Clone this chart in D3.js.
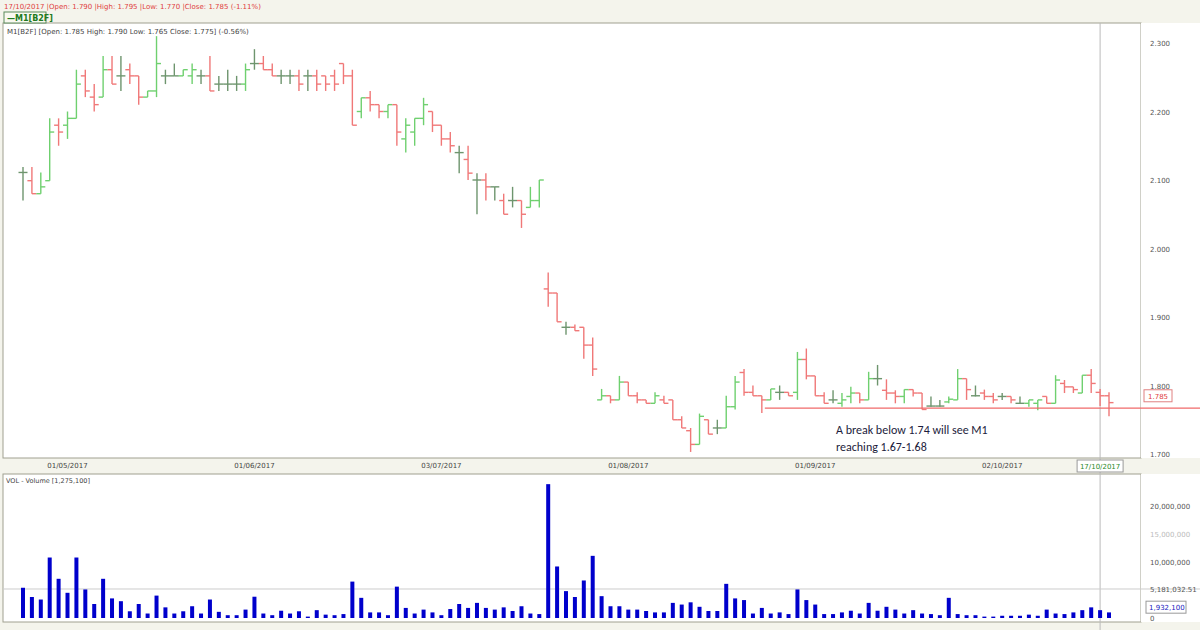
<!DOCTYPE html>
<html><head><meta charset="utf-8">
<script src="https://cdn.jsdelivr.net/npm/d3@7"></script>
<style>body{margin:0;background:#fff;}text{font-family:"DejaVu Sans",sans-serif;}</style>
</head><body><svg id="chart" width="1200" height="630"></svg>
<script>
const opens = [2.111,2.099,2.080,2.099,2.180,2.180,2.190,2.252,2.221,2.221,2.261,2.252,2.261,2.252,2.221,2.230,2.252,2.252,2.252,2.252,2.252,2.252,2.240,2.240,2.240,2.240,2.270,2.270,2.261,2.252,2.252,2.252,2.252,2.252,2.252,2.252,2.270,2.252,2.200,2.220,2.210,2.200,2.210,2.160,2.170,2.190,2.200,2.180,2.160,2.140,2.130,2.100,2.100,2.090,2.070,2.070,2.070,2.060,2.070,1.941,1.935,1.885,1.885,1.885,1.859,1.779,1.785,1.779,1.805,1.785,1.779,1.774,1.779,1.779,1.750,1.734,1.714,1.750,1.738,1.738,1.769,1.819,1.790,1.785,1.779,1.790,1.790,1.790,1.838,1.814,1.785,1.779,1.774,1.784,1.789,1.779,1.810,1.793,1.789,1.784,1.794,1.789,1.770,1.770,1.776,1.779,1.810,1.785,1.789,1.784,1.784,1.784,1.774,1.774,1.774,1.784,1.774,1.803,1.798,1.789,1.815,1.790,1.785];
const highs = [2.119,2.119,2.111,2.190,2.190,2.200,2.261,2.261,2.240,2.281,2.281,2.281,2.270,2.252,2.230,2.310,2.261,2.270,2.261,2.270,2.261,2.281,2.252,2.261,2.252,2.270,2.291,2.281,2.270,2.261,2.261,2.261,2.261,2.261,2.252,2.261,2.270,2.261,2.220,2.230,2.210,2.210,2.210,2.190,2.190,2.220,2.200,2.180,2.170,2.150,2.150,2.110,2.110,2.090,2.080,2.090,2.070,2.090,2.100,1.965,1.935,1.893,1.889,1.885,1.870,1.795,1.785,1.814,1.805,1.790,1.779,1.790,1.785,1.779,1.755,1.738,1.759,1.750,1.750,1.785,1.814,1.824,1.800,1.785,1.795,1.800,1.790,1.849,1.854,1.814,1.790,1.793,1.789,1.798,1.789,1.820,1.830,1.809,1.793,1.794,1.794,1.789,1.784,1.779,1.784,1.824,1.810,1.800,1.794,1.789,1.789,1.784,1.784,1.779,1.779,1.784,1.815,1.808,1.798,1.815,1.824,1.795,1.790];
const lows = [2.070,2.080,2.080,2.099,2.150,2.160,2.190,2.221,2.200,2.221,2.240,2.230,2.240,2.210,2.221,2.221,2.240,2.252,2.252,2.240,2.240,2.230,2.230,2.230,2.230,2.230,2.261,2.261,2.252,2.240,2.240,2.230,2.230,2.230,2.230,2.230,2.240,2.180,2.190,2.200,2.190,2.190,2.150,2.140,2.150,2.180,2.170,2.150,2.140,2.110,2.100,2.050,2.070,2.070,2.050,2.060,2.030,2.060,2.060,1.915,1.893,1.874,1.880,1.839,1.814,1.779,1.774,1.779,1.785,1.774,1.774,1.774,1.774,1.750,1.738,1.703,1.714,1.729,1.729,1.738,1.765,1.785,1.785,1.760,1.779,1.779,1.785,1.779,1.809,1.785,1.774,1.774,1.769,1.774,1.774,1.779,1.800,1.779,1.774,1.774,1.784,1.765,1.769,1.769,1.774,1.779,1.779,1.784,1.779,1.774,1.779,1.774,1.773,1.769,1.764,1.774,1.774,1.789,1.789,1.789,1.789,1.770,1.755];
const closes = [2.111,2.080,2.090,2.170,2.170,2.190,2.240,2.230,2.210,2.261,2.240,2.252,2.252,2.221,2.230,2.270,2.252,2.252,2.261,2.261,2.252,2.230,2.240,2.240,2.240,2.261,2.270,2.261,2.252,2.252,2.252,2.240,2.252,2.240,2.240,2.240,2.252,2.180,2.220,2.210,2.200,2.210,2.170,2.180,2.190,2.210,2.180,2.160,2.150,2.140,2.110,2.100,2.090,2.090,2.050,2.070,2.050,2.070,2.100,1.935,1.893,1.885,1.880,1.859,1.824,1.785,1.779,1.805,1.785,1.779,1.774,1.785,1.774,1.750,1.738,1.714,1.755,1.729,1.738,1.769,1.805,1.790,1.785,1.779,1.795,1.790,1.785,1.838,1.814,1.785,1.774,1.779,1.779,1.789,1.779,1.810,1.810,1.789,1.784,1.794,1.789,1.765,1.770,1.770,1.780,1.810,1.794,1.785,1.784,1.779,1.784,1.779,1.774,1.779,1.779,1.774,1.808,1.798,1.794,1.815,1.803,1.785,1.775];
// volume in millions
const volumes = [5.4,3.75,3.3,10.8,7.0,4.5,10.8,5.1,2.5,7.0,3.5,3.0,1.2,2.5,0.8,4.0,1.9,0.8,1.2,2.1,0.8,3.3,1.1,0.5,0.5,1.5,3.8,0.8,0.5,1.3,0.8,1.2,0.25,1.4,0.6,0.5,0.7,6.5,3.6,1.0,1.0,0.5,5.6,1.8,0.8,1.5,1.0,0.5,1.6,2.5,1.8,2.7,1.8,1.5,1.9,1.25,2.1,0.8,0.7,23.9,9.2,4.8,3.75,6.7,11.1,3.9,2.1,2.1,1.5,1.5,1.25,1.0,1.0,2.7,2.4,2.8,2.0,1.25,1.25,6.1,3.5,3.2,0.8,1.8,0.8,1.0,0.7,5.1,3.2,2.4,0.7,0.7,1.0,1.3,0.8,2.7,1.3,2.0,1.5,0.8,1.4,0.8,0.7,0.5,3.6,0.7,0.5,0.5,0.25,0.25,0.4,0.4,0.4,0.6,0.4,1.5,0.8,0.7,1.0,1.4,1.9,1.4,1.0];
const dateLabels = ["01/05/2017","01/06/2017","03/07/2017","01/08/2017","01/09/2017","02/10/2017"];
const dateIndex = [5,26,47,68,89,110];
const priceTicks = [1.7,1.8,1.9,2.0,2.1,2.2,2.3];
const volTicks = [0,10,15,20];
const cursorIndex = 121, cursorDate = "17/10/2017";
const supportLevel = 1.767, lastPrice = 1.785, volAvg = 5.181, volLast = 1.932;

const svg = d3.select("#chart");
const x = d3.scaleLinear().domain([0, opens.length - 1]).range([23, 1109]);
const y = d3.scaleLinear().domain([1.7, 2.3]).range([454, 43]);
const yv = d3.scaleLinear().domain([0, 20]).range([618, 506]);

// frames / backgrounds
svg.append("rect").attr("width", 1200).attr("height", 630).attr("fill", "#f4f4ec");
svg.append("rect").attr("x", 3).attr("y", 23).attr("width", 1138).attr("height", 435).attr("fill", "#fff").attr("stroke", "#a0a090");
svg.append("rect").attr("x", 1141).attr("y", 23).attr("width", 59).attr("height", 435).attr("fill", "#fff");
svg.append("rect").attr("x", 3).attr("y", 474).attr("width", 1138).attr("height", 148).attr("fill", "#fff").attr("stroke", "#a0a090");
svg.append("rect").attr("x", 1141).attr("y", 474).attr("width", 59).attr("height", 148).attr("fill", "#fff");

svg.append("text").attr("x", 4).attr("y", 9).attr("font-size", 7).attr("fill", "#e04040")
  .text("17/10/2017 |Open: 1.790 |High: 1.795 |Low: 1.770 |Close: 1.785 (-1.11%)");
svg.append("rect").attr("x", 4).attr("y", 12).attr("width", 42).attr("height", 11).attr("fill", "#f8f8f0").attr("stroke", "#5a8a5a");
svg.append("text").attr("x", 7).attr("y", 21).attr("font-size", 8).attr("font-weight", "bold").attr("fill", "#207a20").text("—M1[B2F]");
svg.append("text").attr("x", 7).attr("y", 34).attr("font-size", 7).attr("fill", "#444")
  .text("M1[B2F] [Open: 1.785  High: 1.790  Low: 1.765  Close: 1.775] (-0.56%)");

// axes labels
priceTicks.forEach(p => {
  svg.append("text").attr("x", 1150).attr("y", y(p) + 3).attr("font-size", 7).attr("fill", "#555").text(p.toFixed(3));
});
volTicks.forEach(v => {
  svg.append("text").attr("x", 1150).attr("y", yv(v) + 3).attr("font-size", 7).attr("fill", v === 15 ? "#bbb" : "#555")
    .text(d3.format(",")(v * 1e6));
});
dateIndex.forEach((d, i) => {
  svg.append("text").attr("x", x(d)).attr("y", 468).attr("text-anchor", "middle").attr("font-size", 7).attr("fill", "#444").text(dateLabels[i]);
});

// cursor line
svg.append("line").attr("x1", x(cursorIndex)).attr("x2", x(cursorIndex)).attr("y1", 23).attr("y2", 630).attr("stroke", "#bbb");
svg.append("rect").attr("x", x(cursorIndex) - 23).attr("y", 460).attr("width", 46).attr("height", 12).attr("fill", "#fff").attr("stroke", "#999");
svg.append("text").attr("x", x(cursorIndex)).attr("y", 469).attr("text-anchor", "middle").attr("font-size", 7).attr("fill", "#2a8a2a").text(cursorDate);

// OHLC bars
const color = i => closes[i] > opens[i] ? "#6fd06f" : closes[i] < opens[i] ? "#f07878" : "#6e956e";
const bars = svg.append("g").attr("stroke-width", 1.4);
opens.forEach((o, i) => {
  const cx = x(i), c = color(i);
  bars.append("line").attr("x1", cx).attr("x2", cx).attr("y1", y(highs[i])).attr("y2", y(lows[i])).attr("stroke", c);
  bars.append("line").attr("x1", cx - 4.5).attr("x2", cx).attr("y1", y(o)).attr("y2", y(o)).attr("stroke", c);
  bars.append("line").attr("x1", cx).attr("x2", cx + 4.5).attr("y1", y(closes[i])).attr("y2", y(closes[i])).attr("stroke", c);
});

// support line & annotation
svg.append("line").attr("x1", x(83) + 3).attr("x2", 1200).attr("y1", y(supportLevel)).attr("y2", y(supportLevel)).attr("stroke", "#f06a6a").attr("stroke-width", 1.3);
svg.append("text").attr("x", 836).attr("y", 434).attr("font-size", 12).attr("fill", "#1c1c3c").style("font-family", "Carlito, 'Liberation Sans Narrow', 'Liberation Sans', sans-serif").text("A break below 1.74 will see M1");
svg.append("text").attr("x", 836).attr("y", 451).attr("font-size", 12).attr("fill", "#1c1c3c").style("font-family", "Carlito, 'Liberation Sans Narrow', 'Liberation Sans', sans-serif").text("reaching 1.67-1.68");
svg.append("rect").attr("x", 1144).attr("y", y(lastPrice) - 6).attr("width", 28).attr("height", 12).attr("fill", "#fff").attr("stroke", "#e08080");
svg.append("text").attr("x", 1148).attr("y", y(lastPrice) + 3).attr("font-size", 7).attr("fill", "#e04040").text(lastPrice.toFixed(3));

// volume panel
svg.append("text").attr("x", 6).attr("y", 483).attr("font-size", 6.5).attr("fill", "#444").text("VOL - Volume [1,275,100]");
svg.append("line").attr("x1", 3).attr("x2", 1200).attr("y1", yv(volAvg)).attr("y2", yv(volAvg)).attr("stroke", "#ccc");
svg.append("text").attr("x", 1150).attr("y", yv(volAvg) + 3).attr("font-size", 7).attr("fill", "#555").text("5,181,032.51");
svg.append("rect").attr("x", 1146).attr("y", yv(volLast) - 6).attr("width", 40).attr("height", 12).attr("fill", "#fff").attr("stroke", "#999");
svg.append("text").attr("x", 1149).attr("y", yv(volLast) + 3).attr("font-size", 7).attr("fill", "#2020c0").text("1,932,100");
svg.append("g").selectAll("rect").data(volumes).join("rect")
  .attr("x", (d, i) => x(i) - 2).attr("width", 4)
  .attr("y", d => yv(d)).attr("height", d => yv(0) - yv(d))
  .attr("fill", "#0000cc");
</script></body></html>
